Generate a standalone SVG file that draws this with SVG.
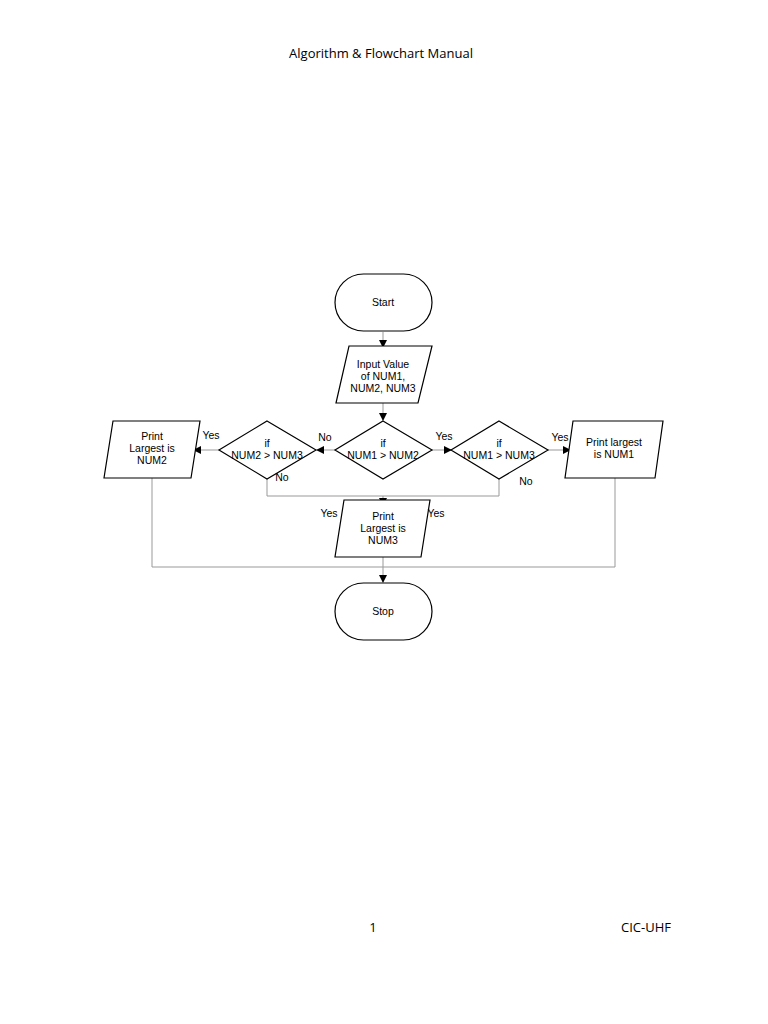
<svg xmlns="http://www.w3.org/2000/svg" width="768" height="1024" viewBox="0 0 768 1024">
<style>
.s{fill:#fff;stroke:#000;stroke-width:1.2}
.t{font-family:"Liberation Sans",Arial,sans-serif;font-size:10.5px;text-anchor:middle;fill:#000}
.h{font-family:"Open Sans","Liberation Sans",sans-serif;font-size:13px;fill:#000}
.c{fill:none;stroke:#999;stroke-width:1}
</style>
<defs><marker id="a" markerWidth="8" markerHeight="8" refX="7" refY="4" orient="auto" markerUnits="userSpaceOnUse"><path d="M0,0 L8,4 L0,8 z" fill="#000"/></marker></defs>
<rect width="768" height="1024" fill="#fff"/>
<text class="h" x="381" y="58" text-anchor="middle">Algorithm &amp; Flowchart Manual</text>
<text class="h" x="373" y="932" text-anchor="middle">1</text>
<text class="h" x="646" y="932" text-anchor="middle">CIC-UHF</text>
<g id="connectors">
<path class="c" d="M383,332 V347" marker-end="url(#a)"/>
<path class="c" d="M383,403 V420" marker-end="url(#a)"/>
<path class="c" d="M335,450 H317" marker-end="url(#a)"/>
<path class="c" d="M219,450 H194" marker-end="url(#a)"/>
<path class="c" d="M432,450 H451" marker-end="url(#a)"/>
<path class="c" d="M548,450 H570" marker-end="url(#a)"/>
<path class="c" d="M267,478 V496 H499 V478"/>
<path class="c" d="M383,496 V505" marker-end="url(#a)"/>
<path class="c" d="M152,478 V567 H615 V478"/>
<path class="c" d="M383,557 V582" marker-end="url(#a)"/>
</g>
<g id="start"><rect class="s" x="335" y="274" width="97" height="57" rx="28.5"/><text class="t" x="383" y="306">Start</text></g>
<g id="input"><path class="s" d="M349,346 H432 L418,403 H336 Z"/><text class="t" x="383" y="368">Input Value</text><text class="t" x="383" y="380">of NUM1,</text><text class="t" x="383" y="392">NUM2, NUM3</text></g>
<g id="d1"><path class="s" d="M383,421 L432,450 L383,479 L335,450 Z"/><text class="t" x="383" y="447">if</text><text class="t" x="383" y="459">NUM1 &gt; NUM2</text></g>
<g id="d2"><path class="s" d="M267,421 L316,450 L267,479 L219,450 Z"/><text class="t" x="267" y="447">if</text><text class="t" x="267" y="459">NUM2 &gt; NUM3</text></g>
<g id="d3"><path class="s" d="M499,421 L548,450 L499,479 L451,450 Z"/><text class="t" x="499" y="447">if</text><text class="t" x="499" y="459">NUM1 &gt; NUM3</text></g>
<g id="p2"><path class="s" d="M113,421 H200 L191,478 H104 Z"/><text class="t" x="152" y="440">Print</text><text class="t" x="152" y="452">Largest is</text><text class="t" x="152" y="464">NUM2</text></g>
<g id="p1"><path class="s" d="M573,421 H663 L655,478 H565 Z"/><text class="t" x="614" y="446">Print largest</text><text class="t" x="614" y="458">is NUM1</text></g>
<g id="p3"><path class="s" d="M344,500 H430 L421,557 H335 Z"/><text class="t" x="383" y="520">Print</text><text class="t" x="383" y="532">Largest is</text><text class="t" x="383" y="544">NUM3</text></g>
<g id="stop"><rect class="s" x="335" y="583" width="97" height="57" rx="28.5"/><text class="t" x="383" y="615">Stop</text></g>
<g id="labels">
<text class="t" x="211" y="439">Yes</text>
<text class="t" x="325" y="441">No</text>
<text class="t" x="444" y="440">Yes</text>
<text class="t" x="560" y="441">Yes</text>
<text class="t" x="282" y="481">No</text>
<text class="t" x="526" y="485">No</text>
<text class="t" x="329" y="517">Yes</text>
<text class="t" x="436" y="517">Yes</text>
</g>
</svg>
